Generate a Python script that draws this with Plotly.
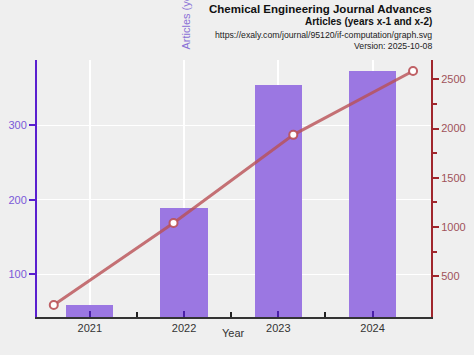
import plotly.graph_objects as go

years = ["2021", "2022", "2023", "2024"]
articles = [59, 189, 354, 372]
citations = [209, 1041, 1936, 2584]
left_ticks = [100, 200, 300]
right_ticks = [500, 1000, 1500, 2000, 2500]

idx = list(range(len(years)))

fig = go.Figure()
fig.add_trace(go.Bar(
    x=idx, y=articles, width=0.5,
    marker=dict(color="#9b77e2", line=dict(width=0)),
    xaxis="x", yaxis="y", showlegend=False,
))
fig.add_trace(go.Scatter(
    x=idx, y=citations, mode="lines+markers",
    line=dict(color="rgba(185,80,85,0.8)", width=3),
    marker=dict(size=8, color="white", line=dict(color="rgba(185,80,85,0.9)", width=2)),
    xaxis="x2", yaxis="y2", showlegend=False,
))

font_family = "Liberation Sans, Arial, sans-serif"
fig.update_layout(
    width=474, height=355,
    margin=dict(l=37, r=43, t=60, b=38, autoexpand=False),
    paper_bgcolor="#efefef", plot_bgcolor="#efefef",
    font=dict(family=font_family, size=11, color="#333333"),
    bargap=0,
    xaxis=dict(
        range=[-0.56, 3.62], tickvals=idx, ticktext=years, automargin=False,
        ticks="inside", ticklen=6, tickcolor="#4a1fa8", tickwidth=2,
        showgrid=True, gridcolor="#ffffff", gridwidth=2,
        showline=True, linecolor="#333333", linewidth=2,
        zeroline=False,
        tickfont=dict(size=11, color="#333333"),
        minor=dict(tickvals=[0.5, 1.5, 2.5], ticks="inside", ticklen=5,
                   tickcolor="#222222", tickwidth=2, showgrid=False),
    ),
    xaxis2=dict(range=[-0.14, 3.15], overlaying="x", visible=False),
    yaxis=dict(
        range=[43, 387], tickvals=left_ticks, automargin=False,
        ticks="outside", ticklen=6, tickcolor="#5a1fcf", tickwidth=2,
        showline=True, linecolor="#5a1fcf", linewidth=2,
        showgrid=True, gridcolor="#ffffff", gridwidth=1,
        zeroline=False,
        tickfont=dict(size=11, color="#7a5ad8"),
    ),
    yaxis2=dict(
        range=[87, 2696], tickvals=right_ticks, overlaying="y", side="right",
        automargin=False,
        ticks="outside", ticklen=6, tickcolor="#a0262d", tickwidth=2,
        showline=True, linecolor="#a0262d", linewidth=2,
        showgrid=False, zeroline=False,
        tickfont=dict(size=11, color="#a0525a"),
        minor=dict(tickvals=[750, 1250, 1750, 2250], ticks="outside", ticklen=4,
                   tickcolor="#a0262d", tickwidth=2, showgrid=False),
    ),
)

W, H = 474, 355
pl, pr, pt, pb = 37, 431, 60, 317

def px(x):
    return (x - pl) / (pr - pl)

def py(y):
    return (pb - y) / (pb - pt)

anns = [
    dict(text="<b>Chemical Engineering Journal Advances</b>", x=px(431), y=py(1),
         xanchor="right", yanchor="top", xshift=3, font=dict(size=11.5, color="#111111")),
    dict(text="<b>Articles (years x-1 and x-2)</b>", x=px(431), y=py(14),
         xanchor="right", yanchor="top", xshift=3, font=dict(size=10, color="#111111")),
    dict(text="https://exaly.com/journal/95120/if-computation/graph.svg", x=px(431), y=py(28),
         xanchor="right", yanchor="top", xshift=3, font=dict(size=8.7, color="#222222")),
    dict(text="Version: 2025-10-08", x=px(431), y=py(39),
         xanchor="right", yanchor="top", xshift=3, font=dict(size=8.7, color="#222222")),
    dict(text="Articles (years x-1 and x-2)", x=px(185), y=py(52), textangle=-90,
         xanchor="center", yanchor="bottom", font=dict(size=11, color="#8a6fd6")),
    dict(text="Year", x=px(233), y=py(325),
         xanchor="center", yanchor="top", font=dict(size=11, color="#333333")),
]
for a in anns:
    a.update(xref="paper", yref="paper", showarrow=False)
    fig.add_annotation(**a)

fig.write_html("out.html", config={"displayModeBar": False},
               post_script="document.body.style.margin='0';")
